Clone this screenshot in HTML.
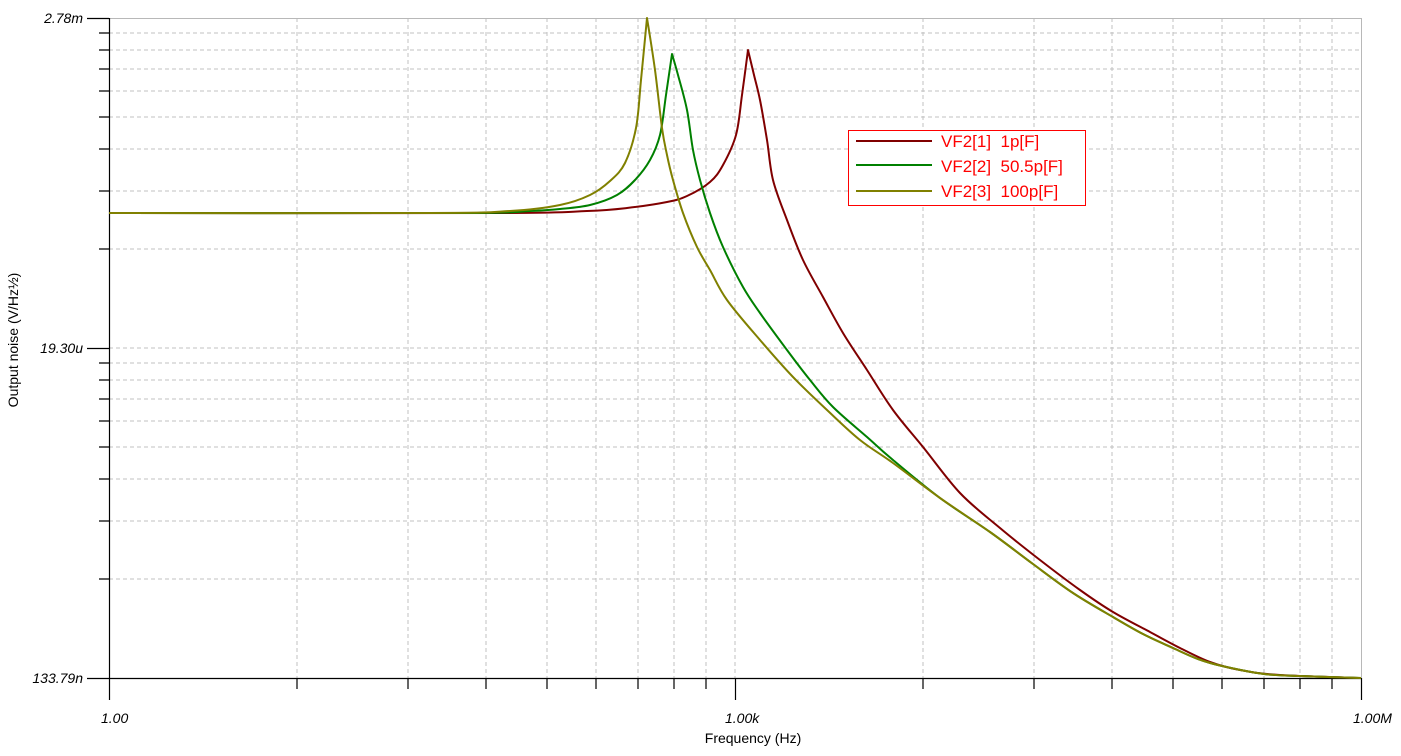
<!DOCTYPE html>
<html><head><meta charset="utf-8"><style>
html,body{margin:0;padding:0;background:#fff;}
svg text{font-family:"Liberation Sans",sans-serif;}
</style></head><body>
<svg id="s" width="1401" height="751" viewBox="0 0 1401 751" xmlns="http://www.w3.org/2000/svg">
<g stroke="#c0c0c0" stroke-width="1" stroke-dasharray="4,3" fill="none">
<path d="M109 33H1361M109 50H1361M109 69H1361M109 91H1361M109 117H1361M109 149H1361M109 191H1361M109 249H1361M109 348H1361M109 363H1361M109 380H1361M109 399H1361M109 421H1361M109 447H1361M109 479H1361M109 521H1361M109 579H1361"/>
<path d="M297 18V678M408 18V678M486 18V678M547 18V678M596 18V678M638 18V678M674 18V678M706 18V678M735 18V678M923 18V678M1034 18V678M1112 18V678M1173 18V678M1222 18V678M1264 18V678M1300 18V678M1332 18V678"/>
</g>
<path d="M109 18.5H1361M1361.5 18V678" stroke="#b8b8b8" stroke-width="1" fill="none"/>
<g stroke="#000" stroke-width="1.2" fill="none">
<path d="M109.5 18V700M87 18.5H109M87 348.5H109M87 678.5H1361"/>
<path d="M99 33H109M99 50H109M99 69H109M99 91H109M99 117H109M99 149H109M99 191H109M99 249H109M99 363H109M99 380H109M99 399H109M99 421H109M99 447H109M99 479H109M99 521H109M99 579H109"/>
<path d="M297 678V689M408 678V689M486 678V689M547 678V689M596 678V689M638 678V689M674 678V689M706 678V689M923 678V689M1034 678V689M1112 678V689M1173 678V689M1222 678V689M1264 678V689M1300 678V689M1332 678V689M735.5 678V700M1361.5 678V700"/>
</g>
<g font-size="14" font-style="italic" fill="#000">
<text x="83" y="23" text-anchor="end">2.78m</text>
<text x="83" y="353" text-anchor="end">19.30u</text>
<text x="83" y="683" text-anchor="end">133.79n</text>
<text x="101" y="723">1.00</text>
<text x="725" y="723">1.00k</text>
<text x="1353" y="723">1.00M</text>
</g>
<text x="753" y="743" font-size="14" text-anchor="middle" fill="#000">Frequency (Hz)</text>
<text transform="translate(18,340) rotate(-90)" font-size="14" text-anchor="middle" fill="#000">Output noise (V/Hz½)</text>
<g fill="none" stroke-width="2" stroke-linejoin="round">
<path id="c1" stroke="#800000" data-p="109,213 500,213 587,211 627,208 667,202 687,196 710,182 723,165 736,135 742,95 748,50 754,75 760,100 767,140 773,180 787,220 803,260 823,297 843,333 867,370 893,410 923,447 960,493 1000,528 1040,560 1080,590 1113,612 1150,632 1180,648 1210,662 1240,670 1280,675 1361,678"/>
<path id="c2" stroke="#008000" data-p="109,213 460,213 530,211 560,209 590,205 617,195 635,180 650,160 660,135 666,95 672,54 678,75 687,110 693,150 700,180 710,213 723,247 743,287 760,313 787,350 810,380 833,407 867,437 893,460 940,498 990,532 1033,564 1073,593 1113,617 1143,634 1173,648 1198,659 1222,666 1264,674 1300,676 1361,678"/>
<path id="c3" stroke="#808000" data-p="109,213 430,213 510,211 560,205 590,195 610,181 625,163 636,128 641,80 647,18 655,70 662,128 667,155 673,180 683,213 697,247 710,270 727,300 760,340 793,377 827,410 860,440 893,463 940,498 990,532 1033,564 1073,593 1113,617 1143,634 1173,648 1198,659 1222,666 1264,674 1300,676 1361,678"/>
</g>
<rect x="848.5" y="130.5" width="237" height="75" fill="#fff" stroke="#ff0000" stroke-width="1"/>
<g stroke-width="2">
<line x1="856" y1="141" x2="932" y2="141" stroke="#800000"/>
<line x1="856" y1="165" x2="932" y2="165" stroke="#008000"/>
<line x1="856" y1="191" x2="932" y2="191" stroke="#808000"/>
</g>
<g font-size="17" fill="#ff0000">
<text x="941" y="147" xml:space="preserve">VF2[1]  1p[F]</text>
<text x="941" y="172" xml:space="preserve">VF2[2]  50.5p[F]</text>
<text x="941" y="197" xml:space="preserve">VF2[3]  100p[F]</text>
</g>
</svg>
<script>
['c1','c2','c3'].forEach(function(id){
  var el=document.getElementById(id);
  var p=el.getAttribute('data-p').trim().split(/\s+/).map(function(s){var a=s.split(',');return [+a[0],+a[1]];});
  var d='M'+p[0][0]+' '+p[0][1];
  for(var i=0;i<p.length-1;i++){
    var p0=p[i-1]||p[i],p1=p[i],p2=p[i+1],p3=p[i+2]||p2;
    var pk1=(p1[1]<p0[1]&&p1[1]<p2[1]), pk2=(p2[1]<p1[1]&&p2[1]<p3[1]);
    var t1=pk1?0:1/6, t2=pk2?0:1/6;
    var c1x=p1[0]+(p2[0]-p0[0])*t1,c1y=p1[1]+(p2[1]-p0[1])*t1;
    var c2x=p2[0]-(p3[0]-p1[0])*t2,c2y=p2[1]-(p3[1]-p1[1])*t2;
    d+=' C'+c1x.toFixed(1)+' '+c1y.toFixed(1)+' '+c2x.toFixed(1)+' '+c2y.toFixed(1)+' '+p2[0]+' '+p2[1];
  }
  el.setAttribute('d',d);
});
</script>
</body></html>
